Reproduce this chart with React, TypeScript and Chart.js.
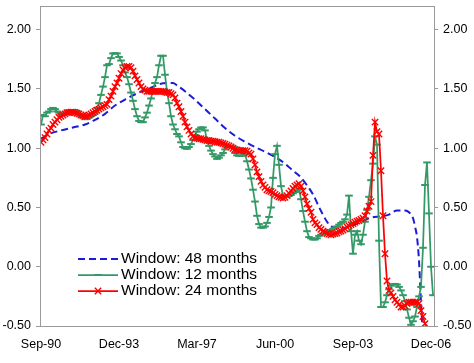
import React, { useEffect, useRef } from "react";
import { Chart, registerables } from "chart.js";

Chart.register(...registerables);

// ---- Axis ticks ----
const xTickMonths = [0, 39, 78, 117, 156, 195]; // month index from Sep-90
const xTickLabels = ["Sep-90", "Dec-93", "Mar-97", "Jun-00", "Sep-03", "Dec-06"];
const yTicks = [-0.5, 0, 0.5, 1, 1.5, 2];

const seriesNames = ["Window: 48 months", "Window: 12 months", "Window: 24 months"];

// ---- Window 48 months (smooth, read at selected months) ----
const window48Months = [0, 4, 10, 16, 22, 26, 32, 37, 43, 49, 55, 59, 63, 66, 68, 72, 77, 82, 87, 92, 97, 102, 107, 112, 117, 122, 126, 129, 132, 136, 140, 143, 145, 148, 152, 156, 160, 165, 170, 174, 178, 182, 184, 186, 187, 188, 189, 190, 191];
const window48Values = [1.08, 1.12, 1.15, 1.175, 1.2, 1.23, 1.29, 1.36, 1.42, 1.47, 1.51, 1.54, 1.55, 1.55, 1.53, 1.48, 1.41, 1.33, 1.25, 1.17, 1.105, 1.055, 1.01, 0.97, 0.925, 0.87, 0.81, 0.77, 0.71, 0.61, 0.47, 0.38, 0.34, 0.33, 0.33, 0.35, 0.38, 0.415, 0.425, 0.44, 0.475, 0.475, 0.46, 0.41, 0.34, 0.25, 0.05, -0.3, -0.6];

// ---- Window 12 months (monthly from Sep-90) ----
const window12Values = [
  1.2, 1.28, 1.27, 1.3, 1.31, 1.33, 1.34, 1.33, 1.31, 1.3,
  1.28, 1.28, 1.29, 1.31, 1.32, 1.32, 1.32, 1.32, 1.31, 1.29,
  1.27, 1.26, 1.245, 1.25, 1.26, 1.27, 1.28, 1.3, 1.34, 1.38,
  1.45, 1.52, 1.6, 1.7, 1.71, 1.76, 1.8, 1.8, 1.8, 1.77,
  1.74, 1.7, 1.64, 1.6, 1.54, 1.47, 1.4, 1.33, 1.27, 1.23,
  1.22, 1.22, 1.26, 1.3, 1.36, 1.42, 1.49, 1.55, 1.6, 1.7,
  1.78, 1.78, 1.62, 1.48, 1.38, 1.27, 1.2, 1.16, 1.12, 1.1,
  1.05, 1.01, 1.0, 0.995, 1.01, 1.035, 1.07, 1.11, 1.14, 1.16,
  1.175, 1.175, 1.15, 1.06, 1.02, 0.98, 0.95, 0.93, 0.91, 0.92,
  0.94, 0.96, 0.99, 1.01, 1.02, 1.02, 1.01, 0.96, 0.94, 0.935,
  0.935, 0.94, 0.95, 0.89, 0.82, 0.745, 0.65, 0.55, 0.43, 0.36,
  0.33, 0.33, 0.34, 0.37, 0.42, 0.5, 0.75, 0.95, 1.02, 0.86,
  0.68, 0.6, 0.59, 0.59, 0.6, 0.605, 0.62, 0.63, 0.645, 0.66,
  0.57, 0.47, 0.38, 0.3, 0.25, 0.24, 0.23, 0.23, 0.24, 0.26,
  0.27, 0.28, 0.3, 0.3, 0.31, 0.31, 0.32, 0.33, 0.34, 0.355,
  0.37, 0.38, 0.4, 0.44, 0.6, 0.3, 0.11, 0.27, 0.3, 0.22,
  0.19, 0.27, 0.38, 0.48, 0.59, 0.73, 0.87, 1.1, 1.03, 0.22,
  -0.34, -0.34, -0.3, -0.24, -0.19, -0.16, -0.15, -0.145, -0.15, -0.17,
  -0.2, -0.24, -0.29, -0.36, -0.43, -0.49, -0.46, -0.42, -0.34, -0.25,
  -0.17, 0.16, 0.69, 0.88, 0.45, 0.0, -0.24,
];

// ---- Window 24 months (monthly from Sep-90) ----
const window24Values = [
  1.05, 1.07, 1.09, 1.12, 1.15, 1.17, 1.2, 1.22, 1.24, 1.26,
  1.27, 1.28, 1.29, 1.3, 1.3, 1.305, 1.305, 1.3, 1.295, 1.29,
  1.28, 1.275, 1.27, 1.27, 1.28, 1.29, 1.3, 1.31, 1.32, 1.33,
  1.34, 1.35, 1.36, 1.37, 1.41, 1.44, 1.48, 1.52, 1.55, 1.59,
  1.63, 1.66, 1.68, 1.69, 1.69, 1.68, 1.65, 1.61, 1.58, 1.55,
  1.52, 1.5, 1.49, 1.48, 1.48, 1.48, 1.48, 1.48, 1.48, 1.48,
  1.48, 1.48, 1.475, 1.47, 1.47, 1.46, 1.45, 1.425, 1.38, 1.35,
  1.31, 1.27, 1.22, 1.18, 1.15, 1.12, 1.1, 1.09, 1.085, 1.08,
  1.08, 1.075, 1.07, 1.065, 1.065, 1.06, 1.06, 1.055, 1.05, 1.05,
  1.045, 1.04, 1.035, 1.025, 1.02, 1.01, 1.0, 0.99, 0.985, 0.98,
  0.98, 0.98, 0.98, 0.975, 0.96, 0.95, 0.91, 0.86, 0.8, 0.76,
  0.72, 0.69, 0.67, 0.65, 0.64, 0.635, 0.625, 0.61, 0.6, 0.59,
  0.585, 0.58, 0.585, 0.6, 0.62, 0.64, 0.66, 0.68, 0.69, 0.7,
  0.68, 0.64, 0.59, 0.53, 0.49, 0.46, 0.4, 0.37, 0.355, 0.33,
  0.315, 0.3, 0.29, 0.28, 0.275, 0.27, 0.275, 0.28, 0.285, 0.295,
  0.3, 0.31, 0.32, 0.335, 0.345, 0.355, 0.365, 0.375, 0.385, 0.39,
  0.4, 0.41, 0.43, 0.47, 0.51, 0.55, 0.94, 1.22, 1.14, 1.12,
  0.81, 0.43, 0.11, -0.12, -0.2, -0.22, -0.25, -0.28, -0.3, -0.32,
  -0.34, -0.34, -0.33, -0.31, -0.3, -0.3, -0.3, -0.3, -0.3, -0.31,
  -0.37, -0.42, -0.48, -0.53,
];

const FONT = "'Liberation Sans', Arial, Helvetica, sans-serif";
const BLUE = "#1c1cd6";
const GREEN = "#339966";
const RED = "#ff0000";
const AXIS_GRAY = "#9a9a9a";

const framePlugin = {
  id: "frameAndLegend",
  afterDatasetsDraw(chart: any) {
    const { ctx, chartArea } = chart;
    const { left, right, top, bottom } = chartArea;
    ctx.save();
    ctx.strokeStyle = AXIS_GRAY;
    ctx.lineWidth = 1;
    ctx.setLineDash([]);
    ctx.strokeRect(Math.round(left) + 0.5, Math.round(top) + 0.5, Math.round(right - left), Math.round(bottom - top));
    ctx.restore();

    // legend inside plot area
    const x0 = left + 38;
    const x1 = left + 78;
    const textX = left + 81;
    const rowY0 = top + 253;
    const rowGap = 16;
    chart.data.datasets.forEach((ds: any, i: number) => {
      const y = rowY0 + i * rowGap;
      ctx.save();
      ctx.strokeStyle = ds.borderColor;
      ctx.lineWidth = ds.borderWidth;
      ctx.setLineDash(ds.borderDash || []);
      ctx.beginPath();
      ctx.moveTo(x0, y);
      ctx.lineTo(x1, y);
      ctx.stroke();
      ctx.setLineDash([]);
      const cx = (x0 + x1) / 2;
      const r = ds.pointRadius || 0;
      if (r > 0) {
        ctx.lineWidth = ds.pointBorderWidth || 1;
        ctx.strokeStyle = ds.pointBorderColor || ds.borderColor;
        ctx.beginPath();
        if (ds.pointStyle === "crossRot") {
          const o = r * Math.SQRT1_2;
          ctx.moveTo(cx - o, y - o);
          ctx.lineTo(cx + o, y + o);
          ctx.moveTo(cx - o, y + o);
          ctx.lineTo(cx + o, y - o);
        } else if (ds.pointStyle === "line") {
          ctx.moveTo(cx - r, y);
          ctx.lineTo(cx + r, y);
        }
        ctx.stroke();
      }
      ctx.fillStyle = "#000";
      ctx.font = `15.5px ${FONT}`;
      ctx.textBaseline = "middle";
      ctx.textAlign = "left";
      ctx.fillText(seriesNames[i], textX, y);
      ctx.restore();
    });
  },
};

function fixWidth(w: number) {
  return (scale: any) => {
    scale.width = w;
    scale.paddingTop = 0;
    scale.paddingBottom = 0;
    scale.paddingLeft = 0;
    scale.paddingRight = 0;
  };
}

export default function App() {
  const ref = useRef<HTMLCanvasElement>(null);

  useEffect(() => {
    const canvas = ref.current;
    if (!canvas) return;

    const yAxisCommon = {
      type: "linear" as const,
      min: -0.5,
      max: 2.2,
      afterBuildTicks: (axis: any) => {
        axis.ticks = yTicks.map((v) => ({ value: v }));
      },
      grid: {
        display: true,
        drawOnChartArea: false,
        drawTicks: true,
        tickLength: 4,
        color: AXIS_GRAY,
        lineWidth: 1,
      },
      border: { display: false },
      ticks: {
        color: "#000",
        padding: 5,
        font: { family: FONT, size: 12.5 },
        callback: (v: any) => Number(v).toFixed(2),
      },
    };

    const chart = new Chart(canvas, {
      type: "line",
      data: {
        datasets: [
          {
            label: seriesNames[0],
            data: window48Months.map((m, i) => ({ x: m, y: window48Values[i] })),
            borderColor: BLUE,
            borderWidth: 2,
            borderDash: [7, 4],
            pointRadius: 0,
            cubicInterpolationMode: "monotone",
            fill: false,
            order: 2,
          },
          {
            label: seriesNames[1],
            data: window12Values.map((v, i) => ({ x: i, y: v })),
            borderColor: GREEN,
            borderWidth: 1.75,
            pointStyle: "line",
            pointRadius: 3.8,
            pointBorderWidth: 2,
            pointBorderColor: GREEN,
            pointBackgroundColor: GREEN,
            tension: 0,
            fill: false,
            order: 1,
          },
          {
            label: seriesNames[2],
            data: window24Values.map((v, i) => ({ x: i, y: v })),
            borderColor: RED,
            borderWidth: 1.75,
            pointStyle: "crossRot",
            pointRadius: 4.5,
            pointBorderWidth: 1.4,
            pointBorderColor: RED,
            pointBackgroundColor: RED,
            tension: 0,
            fill: false,
            order: 0,
          },
        ] as any,
      },
      options: {
        animation: false,
        responsive: false,
        devicePixelRatio: 1,
        layout: { padding: { top: 2, left: 0, right: 0, bottom: 0 } },
        plugins: {
          legend: { display: false },
          tooltip: { enabled: false },
        },
        scales: {
          x: {
            type: "linear",
            min: -0.5,
            max: 196.5,
            afterBuildTicks: (axis: any) => {
              axis.ticks = xTickMonths.map((v) => ({ value: v }));
            },
            afterFit: (scale: any) => {
              scale.height = 37;
              scale.paddingLeft = 0;
              scale.paddingRight = 0;
              scale.paddingTop = 0;
              scale.paddingBottom = 0;
            },
            grid: { display: false, drawTicks: false },
            border: { display: false },
            ticks: {
              color: "#000",
              padding: 11,
              maxRotation: 0,
              autoSkip: false,
              font: { family: FONT, size: 12.5 },
              callback: (_v: any, i: number) => xTickLabels[i],
            },
          },
          y: { ...yAxisCommon, position: "left", afterFit: fixWidth(40) },
          y2: { ...yAxisCommon, position: "right", afterFit: fixWidth(40) },
        } as any,
      },
      plugins: [framePlugin],
    });

    return () => chart.destroy();
  }, []);

  return (
    <div style={{ position: "absolute", left: 0, top: 0, width: 474, height: 363, background: "#fff" }}>
      <canvas ref={ref} width={474} height={363} style={{ display: "block", width: 474, height: 363 }} />
    </div>
  );
}
